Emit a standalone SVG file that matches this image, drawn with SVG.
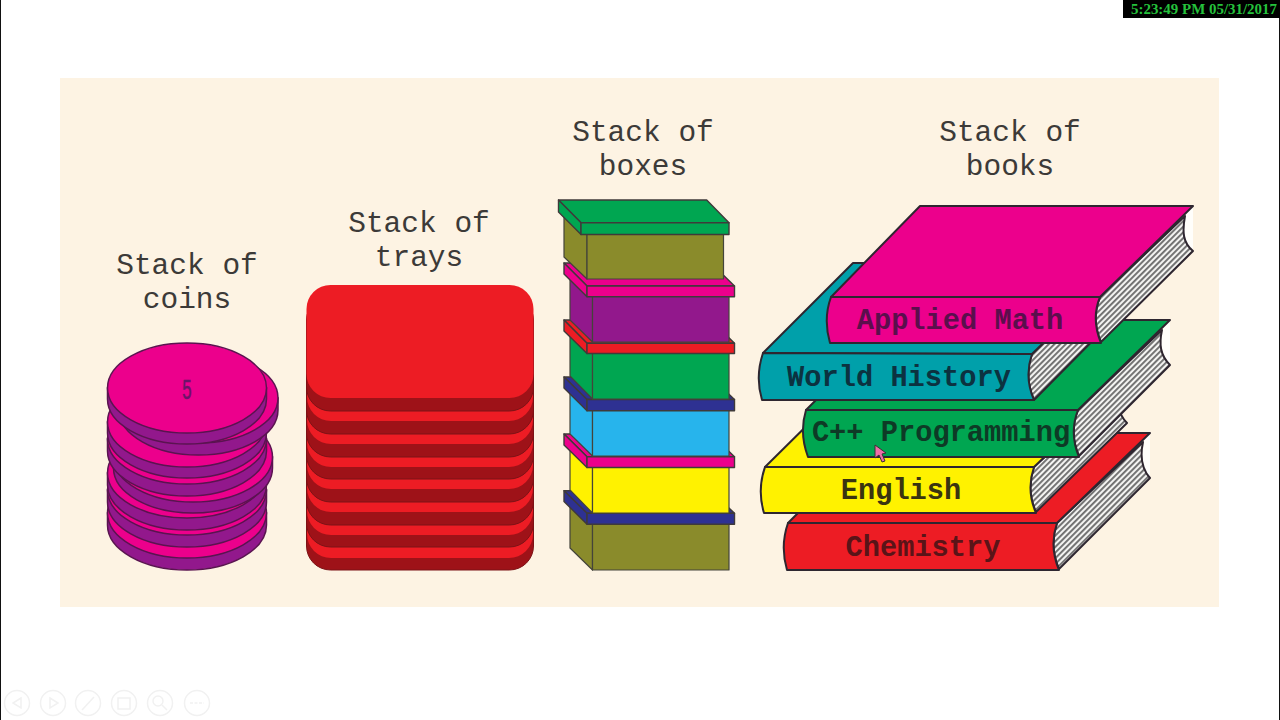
<svg xmlns="http://www.w3.org/2000/svg" width="1280" height="720" viewBox="0 0 1280 720">
<defs>
<pattern id="leaves" width="4" height="4" patternUnits="userSpaceOnUse" patternTransform="rotate(-45)">
<rect width="4" height="4" fill="#f4f4f2"/><rect width="4" height="1.900" fill="#6e6e6e"/>
</pattern>
</defs>
<style>
.title{font:29.5px "Liberation Mono",monospace;fill:#3c3a38;text-anchor:middle}
.label{font:bold 28.7px "Liberation Mono",monospace;text-anchor:middle}
.coin-side{fill:#92188c;stroke:#5a1450;stroke-width:1.5}
.coin-top{fill:#ec008c;stroke:#5a1450;stroke-width:1.5}
.tray-side{fill:#9e1218;stroke:#7c1216;stroke-width:1}
.tray-top{fill:#ed1c24}
.edge{stroke:#3f3a3a;stroke-width:1.4;stroke-linejoin:round}
.thin{stroke:#44443a;stroke-width:1.2;stroke-linejoin:round}
.book{stroke:#2e2630;stroke-width:2;stroke-linejoin:round}
.pages{fill:url(#leaves);stroke:#2e2630;stroke-width:2;stroke-linejoin:round}
.notch{fill:#fff;opacity:.85}
.olive{fill:#8a8b2b}.green{fill:#00a651}.magenta{fill:#ec008c}.purple{fill:#92188c}.red{fill:#ed1c24}.navy{fill:#2e3192}.cyan{fill:#27b4ec}.yellow{fill:#fff200}.teal{fill:#00a0aa}
.tool{fill:none;stroke:#f1f1f1;stroke-width:1.5}
</style>
<rect width="1280" height="720" fill="#fff"/>
<rect x="0" y="0" width="1" height="720" fill="#111"/>
<rect x="1279" y="0" width="1" height="720" fill="#111"/>
<rect x="60" y="78" width="1159" height="529" fill="#fdf3e3"/>
<g id="timestamp">
<rect x="1123" y="0" width="157" height="18" fill="#000"/>
<text x="1131" y="13.500" font-family="'Liberation Serif',serif" font-weight="bold" font-size="15" fill="#25c23c" textLength="146" lengthAdjust="spacingAndGlyphs">5:23:49 PM 05/31/2017</text>
</g>
<g id="coins">
<text class="title" x="187" y="274">Stack of</text>
<text class="title" x="187" y="308">coins</text>
<path class="coin-side" d="M107.500 513V525A79.500 45 0 0 0 266.500 525V513Z"/><ellipse class="coin-top" cx="187" cy="513" rx="79.500" ry="45"/>
<path class="coin-side" d="M107.500 490V502A79.500 45 0 0 0 266.500 502V490Z"/><ellipse class="coin-top" cx="187" cy="490" rx="79.500" ry="45"/>
<path class="coin-side" d="M107.500 473V485A79.500 45 0 0 0 266.500 485V473Z"/><ellipse class="coin-top" cx="187" cy="473" rx="79.500" ry="45"/>
<path class="coin-side" d="M113.500 457V468A79.500 45 0 0 0 272.500 468V457Z"/><ellipse class="coin-top" cx="193" cy="457" rx="79.500" ry="45"/>
<path class="coin-side" d="M107.500 439V451A79.500 45 0 0 0 266.500 451V439Z"/><ellipse class="coin-top" cx="187" cy="439" rx="79.500" ry="45"/>
<path class="coin-side" d="M107.500 422V433A79.500 45 0 0 0 266.500 433V422Z"/><ellipse class="coin-top" cx="187" cy="422" rx="79.500" ry="45"/>
<path class="coin-side" d="M119 398V410A79.500 45 0 0 0 278 410V398Z"/><ellipse class="coin-top" cx="198.500" cy="398" rx="79.500" ry="45"/>
<path class="coin-side" d="M107.500 388V399A79.500 45 0 0 0 266.500 399V388Z"/><ellipse class="coin-top" cx="187" cy="388" rx="79.500" ry="45"/>
<text transform="translate(187 399) scale(.6 1)" font-family="'Liberation Sans',sans-serif" font-size="28" fill="#6a1468" stroke="#6a1468" stroke-width=".5" text-anchor="middle">5</text>
</g>
<g id="trays">
<text class="title" x="419" y="232">Stack of</text>
<text class="title" x="419" y="266">trays</text>
<rect class="tray-side" x="306.500" y="455" width="227" height="115" rx="24"/><rect class="tray-top" x="307" y="443" width="226" height="115" rx="24"/>
<rect class="tray-side" x="306.500" y="432" width="227" height="115" rx="24"/><rect class="tray-top" x="307" y="420" width="226" height="115" rx="24"/>
<rect class="tray-side" x="306.500" y="410" width="227" height="115" rx="24"/><rect class="tray-top" x="307" y="397" width="226" height="115" rx="24"/>
<rect class="tray-side" x="306.500" y="387" width="227" height="115" rx="24"/><rect class="tray-top" x="307" y="374" width="226" height="115" rx="24"/>
<rect class="tray-side" x="306.500" y="364" width="227" height="115" rx="24"/><rect class="tray-top" x="307" y="352" width="226" height="115" rx="24"/>
<rect class="tray-side" x="306.500" y="342" width="227" height="115" rx="24"/><rect class="tray-top" x="307" y="329" width="226" height="115" rx="24"/>
<rect class="tray-side" x="306.500" y="319" width="227" height="115" rx="24"/><rect class="tray-top" x="307" y="306" width="226" height="115" rx="24"/>
<rect class="tray-side" x="306.500" y="296" width="227" height="115" rx="24"/><rect class="tray-top" x="306.500" y="285" width="227" height="113" rx="24"/>
</g>
<g id="boxes">
<text class="title" x="643" y="141">Stack of</text>
<text class="title" x="643" y="175">boxes</text>
<g id="box-1">
<path class="olive thin" d="M570 500V548L592.500 570V522Z"/><rect class="olive thin" x="592.500" y="522" width="136.500" height="48"/>
<path class="navy edge" d="M564 490.700H711L734.500 513.300H587Z"/><path class="navy edge" d="M564 490.700L587 513.300V524.300L564 501.500Z"/><rect class="navy edge" x="587" y="513.300" width="147.500" height="11"/>
</g>
<g id="box-2">
<path class="yellow thin" d="M570 443V490L592.500 513V466Z"/><rect class="yellow thin" x="592.500" y="466" width="136.500" height="47"/>
<path class="magenta edge" d="M564 434H711L734.500 456.700H587Z"/><path class="magenta edge" d="M564 434L587 456.700V467.500L564 445Z"/><rect class="magenta edge" x="587" y="456.700" width="147.500" height="10.800"/>
</g>
<g id="box-3">
<path class="cyan thin" d="M570 388V434L592.500 456V410Z"/><rect class="cyan thin" x="592.500" y="410" width="136.500" height="46"/>
<path class="navy edge" d="M564 377H711L734.500 399.500H587Z"/><path class="navy edge" d="M564 377L587 399.500V410.700L564 388Z"/><rect class="navy edge" x="587" y="399.500" width="147.500" height="11.200"/>
</g>
<g id="box-4">
<path class="green thin" d="M570 331V376L592.500 399V353Z"/><rect class="green thin" x="592.500" y="353" width="136.500" height="46"/>
<path class="red edge" d="M564 320H711L734.500 343.300H587Z"/><path class="red edge" d="M564 320L587 343.300V353.500L564 331Z"/><rect class="red edge" x="587" y="343.300" width="147.500" height="10.200"/>
</g>
<g id="box-5">
<path class="purple thin" d="M570 274V320L592.500 342V296Z"/><rect class="purple thin" x="592.500" y="296" width="136.500" height="46"/>
<path class="magenta edge" d="M564 263H711L734.500 286H587Z"/><path class="magenta edge" d="M564 263L587 286V296.700L564 274Z"/><rect class="magenta edge" x="587" y="286" width="147.500" height="10.700"/>
</g>
<g id="box-6">
<path class="olive thin" d="M564 212V257L587 279V234Z"/><rect class="olive thin" x="587" y="234" width="136.500" height="45"/>
<path class="green edge" d="M558.500 200H706.700L729 222.700H581Z"/><path class="green edge" d="M558.500 200L581 222.700V234.500L558.500 212Z"/><rect class="green edge" x="581" y="222.700" width="148" height="11.800"/>
</g>
</g>
<g id="books">
<text class="title" x="1010" y="141">Stack of</text>
<text class="title" x="1010" y="175">books</text>
<g id="book-chemistry">
<path class="notch" d="M1150 433L1143 442C1140 456 1141 468 1150 478Z"/>
<path class="pages" d="M1057 523L1143 442C1140 456 1141 468 1150 478L1059 569Q1049 546 1057 523Z"/>
<path class="red book" d="M788 523L878 433H1150L1057 523Z"/>
<path class="red book" d="M788 523Q780 546 787 570H1059Q1049 546 1057 523Z"/>
<text class="label" x="923" y="556" fill="#5a1418">Chemistry</text>
</g>
<g id="book-english">
<path class="pages" d="M1034 467L1119 388C1116 400 1118 414 1127 423L1036 512Q1026 490 1034 467Z"/>
<path class="yellow book" d="M765 467L855 378H1127L1034 467Z"/>
<path class="yellow book" d="M765 467Q757 490 764 513H1036Q1026 490 1034 467Z"/>
<text class="label" x="901" y="499" fill="#3a3410">English</text>
</g>
<g id="book-cpp">
<path class="notch" d="M1170 320L1162 330C1159 344 1160 355 1170 365Z"/>
<path class="pages" d="M1078 410L1162 330C1159 344 1160 355 1170 365L1079 456Q1069 433 1078 410Z"/>
<path class="green book" d="M806 410L896 320H1170L1078 410Z"/>
<path class="green book" d="M806 410Q799 433 808 457H1079Q1069 433 1078 410Z"/>
<text class="label" x="941" y="441" fill="#0e3a26">C++ Programming</text>
</g>
<g id="book-world-history">
<path class="pages" d="M1032 354L1117 273C1114 285 1116 298 1125 308L1034 400Q1024 377 1032 354Z"/>
<path class="teal book" d="M763 353L853 263H1125L1032 354Z"/>
<path class="teal book" d="M763 353Q755 377 762 400H1034Q1024 377 1032 354Z"/>
<text class="label" x="899" y="386" fill="#0c3240">World History</text>
</g>
<g id="book-applied-math">
<path class="notch" d="M1193 206L1185 216C1182 232 1183 243 1193 251Z"/>
<path class="pages" d="M1100 297L1185 216C1182 232 1183 243 1193 251L1101 342Q1091 319 1100 297Z"/>
<path class="magenta book" d="M831 297L920 206H1193L1100 297Z"/>
<path class="magenta book" d="M831 297Q823 319 830 343H1101Q1091 319 1100 297Z"/>
<text class="label" x="960" y="329" fill="#5a0f4c">Applied Math</text>
</g>
</g>
<g id="pointer">
<path d="M875 445L875 458L879 455L882 462L885 461L882 454L886 453Z" fill="#ee6fa8" stroke="#3a3034" stroke-width="1"/>
</g>
<g id="toolbar">
<circle class="tool" cx="17" cy="703" r="12.500"/><path class="tool" d="M21 698L13 703L21 708Z"/>
<circle class="tool" cx="53" cy="703" r="12.500"/><path class="tool" d="M50 698L58 703L50 708Z"/>
<circle class="tool" cx="88" cy="703" r="12.500"/><path class="tool" d="M82 710L94 697"/>
<circle class="tool" cx="124" cy="703" r="12.500"/><rect class="tool" x="118" y="698" width="12" height="11"/>
<circle class="tool" cx="160" cy="703" r="12.500"/><circle class="tool" cx="158" cy="701" r="5"/><path class="tool" d="M162 705L167 710"/>
<circle class="tool" cx="197" cy="703" r="12.500"/><path class="tool" d="M190 703H204" stroke-dasharray="3 1.500"/>
</g>
</svg>
